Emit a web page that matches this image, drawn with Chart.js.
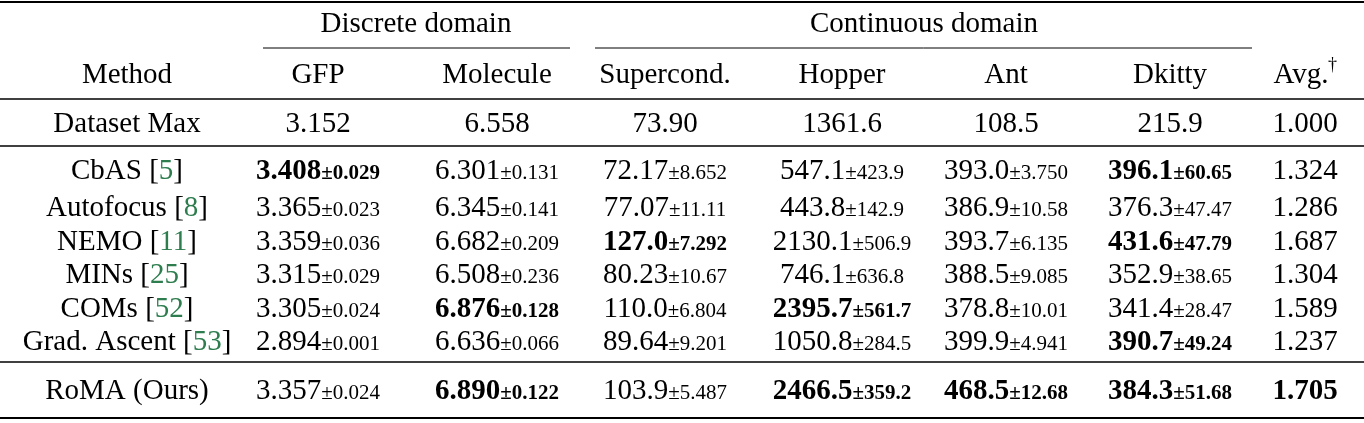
<!DOCTYPE html>
<html><head><meta charset="utf-8">
<script src="https://cdn.jsdelivr.net/npm/chart.js@4.4.1/dist/chart.umd.min.js"></script>
<style>html,body{margin:0;padding:0;background:#fff}#wrap{width:1364px;height:423px}</style>
</head><body><div id="wrap"><canvas id="c"></canvas></div>
<script>
const groupHeaders = ['Discrete domain', 'Continuous domain'];
const columns = ['Method', 'GFP', 'Molecule', 'Supercond.', 'Hopper', 'Ant', 'Dkitty', 'Avg.'];
const datasetMax = ['Dataset Max', '3.152', '6.558', '73.90', '1361.6', '108.5', '215.9', '1.000'];
const methods = ['CbAS', 'Autofocus', 'NEMO', 'MINs', 'COMs', 'Grad. Ascent'];
const cites = ['5', '8', '11', '25', '52', '53'];
const results = [
  ['3.408|0.029', '6.301|0.131', '72.17|8.652', '547.1|423.9', '393.0|3.750', '396.1|60.65', '1.324'],
  ['3.365|0.023', '6.345|0.141', '77.07|11.11', '443.8|142.9', '386.9|10.58', '376.3|47.47', '1.286'],
  ['3.359|0.036', '6.682|0.209', '127.0|7.292', '2130.1|506.9', '393.7|6.135', '431.6|47.79', '1.687'],
  ['3.315|0.029', '6.508|0.236', '80.23|10.67', '746.1|636.8', '388.5|9.085', '352.9|38.65', '1.304'],
  ['3.305|0.024', '6.876|0.128', '110.0|6.804', '2395.7|561.7', '378.8|10.01', '341.4|28.47', '1.589'],
  ['2.894|0.001', '6.636|0.066', '89.64|9.201', '1050.8|284.5', '399.9|4.941', '390.7|49.24', '1.237']
];
const boldCells = [[0, 0], [0, 5], [2, 2], [2, 5], [4, 1], [4, 3], [5, 5]];
const oursName = 'RoMA (Ours)';
const oursRow = ['3.357|0.024', '6.890|0.122', '103.9|5.487', '2466.5|359.2', '468.5|12.68', '384.3|51.68', '1.705'];
const oursBold = [1, 3, 4, 5, 6];

const colX = [127, 318, 497, 665, 842, 1006, 1170, 1305];
const rowY = [169, 206, 240, 273, 307, 340];
const serif = '"Liberation Serif", "DejaVu Serif", serif';

const tablePlugin = {
  id: 'tableDraw',
  afterDraw(chart) {
    const { ctx, scales } = chart;
    const X = v => scales.x.getPixelForValue(v);
    const Y = v => scales.y.getPixelForValue(v);
    ctx.save();
    ctx.fillStyle = '#000';
    ctx.strokeStyle = '#000';
    ctx.textBaseline = 'alphabetic';
    const hline = (y, x0, x1, w) => {
      ctx.lineWidth = w;
      ctx.beginPath(); ctx.moveTo(X(x0), Y(y)); ctx.lineTo(X(x1), Y(y)); ctx.stroke();
    };
    const big = b => (b ? 'bold ' : '') + '29px ' + serif;
    const small = b => (b ? 'bold ' : '') + '21px ' + serif;
    const cell = (txt, cx, by, bold) => {
      const [a, s] = txt.split('|');
      ctx.font = big(bold); const wa = ctx.measureText(a).width;
      let ws = 0, pm = '';
      if (s !== undefined) { pm = '±' + s; ctx.font = small(bold); ws = ctx.measureText(pm).width; }
      let x = X(cx) - (wa + ws) / 2;
      ctx.textAlign = 'left';
      ctx.font = big(bold); ctx.fillText(a, x, Y(by));
      if (pm) { ctx.font = small(bold); ctx.fillText(pm, x + wa, Y(by)); }
    };
    const method = (name, cite, cx, by) => {
      ctx.font = big(false);
      const t1 = name + ' [', t2 = cite, t3 = ']';
      const w1 = ctx.measureText(t1).width, w2 = ctx.measureText(t2).width, w3 = ctx.measureText(t3).width;
      let x = X(cx) - (w1 + w2 + w3) / 2;
      ctx.textAlign = 'left';
      ctx.fillStyle = '#000'; ctx.fillText(t1, x, Y(by));
      ctx.fillStyle = '#2e7d4f'; ctx.fillText(t2, x + w1, Y(by));
      ctx.fillStyle = '#000'; ctx.fillText(t3, x + w1 + w2, Y(by));
    };

    hline(2, 0, 1364, 2);
    ctx.font = big(false); ctx.textAlign = 'center';
    ctx.fillText(groupHeaders[0], X(416), Y(32));
    ctx.fillText(groupHeaders[1], X(924), Y(32));
    hline(48, 263, 570, 1);
    hline(48, 595, 1252, 1);
    columns.forEach((c, i) => {
      ctx.textAlign = 'center'; ctx.font = big(false);
      ctx.fillText(c, X(colX[i]) - (i === 7 ? 4 : 0), Y(83));
      if (i === 7) { ctx.font = '18px ' + serif; ctx.textAlign = 'left'; ctx.fillText('†', X(colX[i]) + 23, Y(70)); }
    });
    hline(99, 0, 1364, 1.3);
    datasetMax.forEach((v, i) => cell(v, colX[i], 132, false));
    hline(146, 0, 1364, 1.3);
    methods.forEach((m, r) => {
      method(m, cites[r], colX[0], rowY[r] + 10);
      results[r].forEach((v, j) => {
        const b = boldCells.some(([rr, cc]) => rr === r && cc === j);
        cell(v, colX[j + 1], rowY[r] + 10, b);
      });
    });
    hline(362, 0, 1364, 1.3);
    cell(oursName, colX[0], 399, false);
    oursRow.forEach((v, j) => cell(v, colX[j + 1], 399, oursBold.includes(j)));
    hline(418, 0, 1364, 2);
    ctx.restore();
  }
};

new Chart(document.getElementById('c'), {
  type: 'scatter',
  data: { datasets: [{ data: [] }] },
  options: {
    responsive: true, maintainAspectRatio: false, animation: false,
    layout: { padding: 0 },
    plugins: { legend: { display: false }, tooltip: { enabled: false } },
    scales: {
      x: { type: 'linear', min: 0, max: 1364, display: false },
      y: { type: 'linear', min: 0, max: 423, reverse: true, display: false }
    }
  },
  plugins: [tablePlugin]
});
</script></body></html>
